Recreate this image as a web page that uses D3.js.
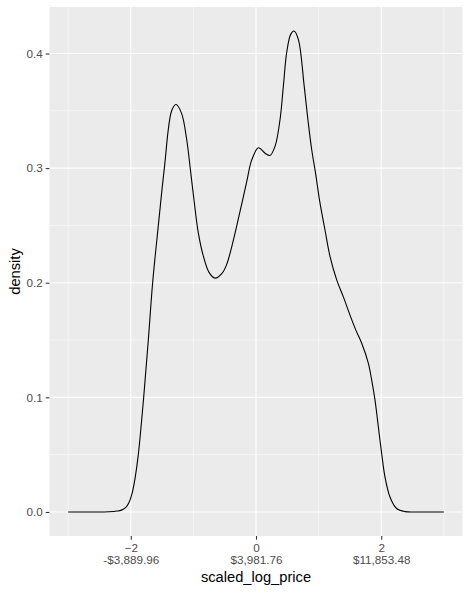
<!DOCTYPE html>
<html>
<head>
<meta charset="utf-8">
<script src="https://cdn.jsdelivr.net/npm/d3@7"></script>
<style>
  html, body { margin: 0; padding: 0; background: #ffffff; }
  svg { display: block; font-family: "Liberation Sans", Arial, Helvetica, sans-serif; }
</style>
</head>
<body>
<svg id="chart" width="470" height="593"></svg>
<script>
// ---- data ----
const gridX = [-3.0, -2.6, -2.35, -2.22, -2.15, -2.08, -2.03, -1.98, -1.93, -1.88, -1.794, -1.72, -1.651, -1.56, -1.464, -1.347, -1.278, -1.19, -1.107, -1.054, -0.99, -0.92, -0.84, -0.75, -0.655, -0.54, -0.468, -0.362, -0.256, -0.149, -0.069, 0.04, 0.144, 0.224, 0.304, 0.383, 0.437, 0.49, 0.554, 0.607, 0.676, 0.77, 0.83, 0.89, 0.95, 1.022, 1.102, 1.182, 1.289, 1.40, 1.50, 1.60, 1.69, 1.795, 1.848, 1.901, 1.954, 2.007, 2.06, 2.14, 2.246, 2.38, 2.6, 3.0];
const density = [0, 0, 0.0002, 0.0008, 0.0016, 0.004, 0.008, 0.016, 0.03, 0.05, 0.1, 0.15, 0.2, 0.25, 0.3, 0.35, 0.3555, 0.348, 0.325, 0.3016, 0.272, 0.243, 0.223, 0.209, 0.204, 0.2084, 0.216, 0.237, 0.262, 0.288, 0.307, 0.3177, 0.313, 0.311, 0.319, 0.342, 0.3715, 0.4007, 0.4167, 0.4196, 0.4123, 0.3715, 0.342, 0.316, 0.296, 0.2696, 0.246, 0.223, 0.2025, 0.187, 0.172, 0.158, 0.147, 0.1297, 0.115, 0.0976, 0.0743, 0.051, 0.0306, 0.0131, 0.003, 0.0003, 0, 0];

const xTicks = [-2, 0, 2];
const xTickPrices = ["-$3,889.96", "$3,981.76", "$11,853.48"];
const xMinor = [-3, -1, 1, 3];
const yTicks = [0.0, 0.1, 0.2, 0.3, 0.4];
const yMinor = [0.05, 0.15, 0.25, 0.35];
const xTitle = "scaled_log_price";
const yTitle = "density";

// ---- layout ----
const svg = d3.select("#chart");
const panel = { left: 49.4, right: 462.6, top: 7, bottom: 536 };

const xMin = d3.min(gridX), xMax = d3.max(gridX);
const xPad = (xMax - xMin) * 0.05;
const x = d3.scaleLinear().domain([xMin - xPad, xMax + xPad]).range([panel.left, panel.right]);

const yMax = d3.max(density);
const yPad = yMax * 0.05;
const y = d3.scaleLinear().domain([-yPad, yMax + yPad]).range([panel.bottom, panel.top]);

// panel background
svg.append("rect")
  .attr("x", panel.left).attr("y", panel.top)
  .attr("width", panel.right - panel.left).attr("height", panel.bottom - panel.top)
  .attr("fill", "#EBEBEB");

const grid = svg.append("g");
// minor grid
grid.selectAll(".vminor").data(xMinor).join("line")
  .attr("class", "vminor")
  .attr("x1", d => x(d)).attr("x2", d => x(d))
  .attr("y1", panel.top).attr("y2", panel.bottom)
  .attr("stroke", "#ffffff").attr("stroke-width", 0.53);
grid.selectAll(".hminor").data(yMinor).join("line")
  .attr("class", "hminor")
  .attr("x1", panel.left).attr("x2", panel.right)
  .attr("y1", d => y(d)).attr("y2", d => y(d))
  .attr("stroke", "#ffffff").attr("stroke-width", 0.53);
// major grid
grid.selectAll(".vmajor").data(xTicks).join("line")
  .attr("class", "vmajor")
  .attr("x1", d => x(d)).attr("x2", d => x(d))
  .attr("y1", panel.top).attr("y2", panel.bottom)
  .attr("stroke", "#ffffff").attr("stroke-width", 1.07);
grid.selectAll(".hmajor").data(yTicks).join("line")
  .attr("class", "hmajor")
  .attr("x1", panel.left).attr("x2", panel.right)
  .attr("y1", d => y(d)).attr("y2", d => y(d))
  .attr("stroke", "#ffffff").attr("stroke-width", 1.07);

// density curve
const pts = gridX.map((v, i) => [v, density[i]]);
svg.append("path")
  .datum(pts)
  .attr("fill", "none")
  .attr("stroke", "#000000")
  .attr("stroke-width", 1.1)
  .attr("stroke-linejoin", "round")
  .attr("d", d3.line().x(d => x(d[0])).y(d => y(d[1])).curve(d3.curveCatmullRom.alpha(0.5)));

// axes
const yAxis = d3.axisLeft(y).tickValues(yTicks).tickFormat(d3.format(".1f")).tickSize(3.67).tickPadding(2.9);
const gy = svg.append("g").attr("transform", `translate(${panel.left},0)`).call(yAxis);
gy.select(".domain").remove();
gy.selectAll(".tick line").attr("stroke", "#333333").attr("stroke-width", 1.07);
gy.selectAll(".tick text").attr("fill", "#4D4D4D").style("font-size", "11.7px");

const xAxis = d3.axisBottom(x).tickValues(xTicks).tickFormat(() => "").tickSize(3.67);
const gx = svg.append("g").attr("transform", `translate(0,${panel.bottom})`).call(xAxis);
gx.select(".domain").remove();
gx.selectAll(".tick line").attr("stroke", "#333333").attr("stroke-width", 1.07);
gx.selectAll(".tick").each(function(d, i) {
  const t = d3.select(this).append("text")
    .attr("fill", "#4D4D4D")
    .attr("text-anchor", "middle")
    .style("font-size", "11.7px");
  t.append("tspan").attr("x", 0).attr("y", 15.7).text(d3.format("d")(d));
  t.append("tspan").attr("x", 0).attr("y", 28).text(xTickPrices[i]);
});

// titles
svg.append("text")
  .attr("x", (panel.left + panel.right) / 2)
  .attr("y", 582)
  .attr("text-anchor", "middle")
  .attr("fill", "#000000")
  .style("font-size", "14.7px")
  .text(xTitle);

svg.append("text")
  .attr("transform", `translate(19.5,${(panel.top + panel.bottom) / 2}) rotate(-90)`)
  .attr("text-anchor", "middle")
  .attr("fill", "#000000")
  .style("font-size", "14.7px")
  .text(yTitle);
</script>
</body>
</html>
